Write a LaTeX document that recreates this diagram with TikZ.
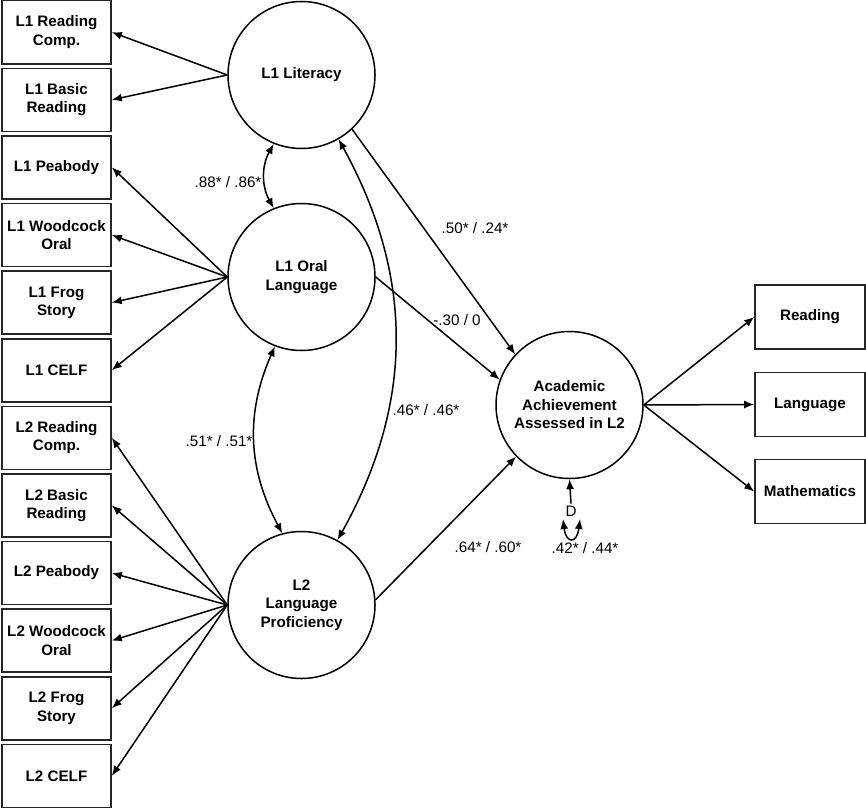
\documentclass[tikz,border=0pt]{standalone}
\usepackage{fontspec}
\setmainfont{Liberation Sans}
\usetikzlibrary{arrows.meta}
\begin{document}
\begin{tikzpicture}[x=1pt,y=1pt,
  obs/.style={draw=black!85, line width=1.6pt, minimum width=109pt, minimum height=63pt, inner sep=0pt, align=center, font=\fontsize{15.2}{18.5}\selectfont\bfseries},
  lat/.style={draw, circle, line width=1.5pt, minimum size=147pt, inner sep=0pt, align=center, font=\fontsize{15.2}{18.5}\selectfont\bfseries},
  arr/.style={line width=1.5pt, -{Latex[length=10pt,width=8pt]}},
  dbl/.style={line width=1.5pt, {Latex[length=10pt,width=8pt]}-{Latex[length=10pt,width=8pt]}},
  lab/.style={font=\fontsize{15.2}{18}\selectfont, inner sep=0pt}
]
\useasboundingbox (0,0) rectangle (866,-808);
% left observed boxes
\foreach \k/\t in {0/{L1 Reading\\Comp.},1/{L1 Basic\\Reading},2/{L1 Peabody},3/{L1 Woodcock\\Oral},4/{L1 Frog\\Story},5/{L1 CELF},6/{L2 Reading\\Comp.},7/{L2 Basic\\Reading},8/{L2 Peabody},9/{L2 Woodcock\\Oral},10/{L2 Frog\\Story},11/{L2 CELF}}
  \node[obs] (b\k) at (56.5,{-(32.2+67.6*\k)}) {\t};
% right boxes
\node[obs, minimum width=110pt, minimum height=64pt] (read) at (810,-317) {Reading};
\node[obs, minimum width=110pt, minimum height=64pt] (lang) at (810,-404.5) {Language};
\node[obs, minimum width=110pt, minimum height=64pt] (math) at (810,-491.5) {Mathematics};
% latent circles
\node[lat] (lit) at (301.5,-75) {L1 Literacy};
\node[lat] (oral) at (301.5,-277) {L1 Oral\\Language};
\node[lat] (l2) at (301.5,-605) {L2\\Language\\Proficiency};
\node[lat] (ach) at (569.5,-405) {Academic\\Achievement\\Assessed in L2};
\node[lab] (d) at (571,-511) {D};
% loadings
\foreach \k in {0,1} \draw[arr] (lit.west) -- (b\k.east);
\foreach \k in {2,3,4,5} \draw[arr] (oral.west) -- (b\k.east);
\foreach \k in {6,7,8,9,10,11} \draw[arr] (l2.west) -- (b\k.east);
\draw[arr] (ach.east) -- (read.west);
\draw[arr] (ach.east) -- (lang.west);
\draw[arr] (ach.east) -- (math.west);
% structural paths
\draw[arr] (lit.313) -- (ach.137);
\draw[arr] (oral.east) -- (ach.160);
\draw[arr] (l2.4) -- (ach.224);
\draw[arr] ([yshift=2pt]d.north) -- (ach.south);
% correlations
\draw[dbl] (lit.248) to[bend right=29] (oral.112);
\draw[dbl] (oral.249) to[bend right=26] (l2.105);
\draw[dbl] (lit.300) to[bend left=29] (l2.61);
\coordinate (dl) at (563,-519);
\coordinate (dr) at (580,-519);
\draw[dbl] (dl) .. controls (566,-544) and (577,-544) .. (dr);
% labels
\node[lab] (c1) at (228,-182) {.88* / .86*};
\node[lab] (c2) at (219,-441) {.51* / .51*};
\node[lab] (c3) at (426,-410) {.46* / .46*};
\node[lab] (p1) at (475,-228) {.50* / .24*};
\node[lab] (p2) at (457,-320) {-.30 / 0};
\node[lab] (p3) at (488,-547) {.64* / .60*};
\node[lab] (dv) at (585,-548) {.42* / .44*};
\end{tikzpicture}
\end{document}
